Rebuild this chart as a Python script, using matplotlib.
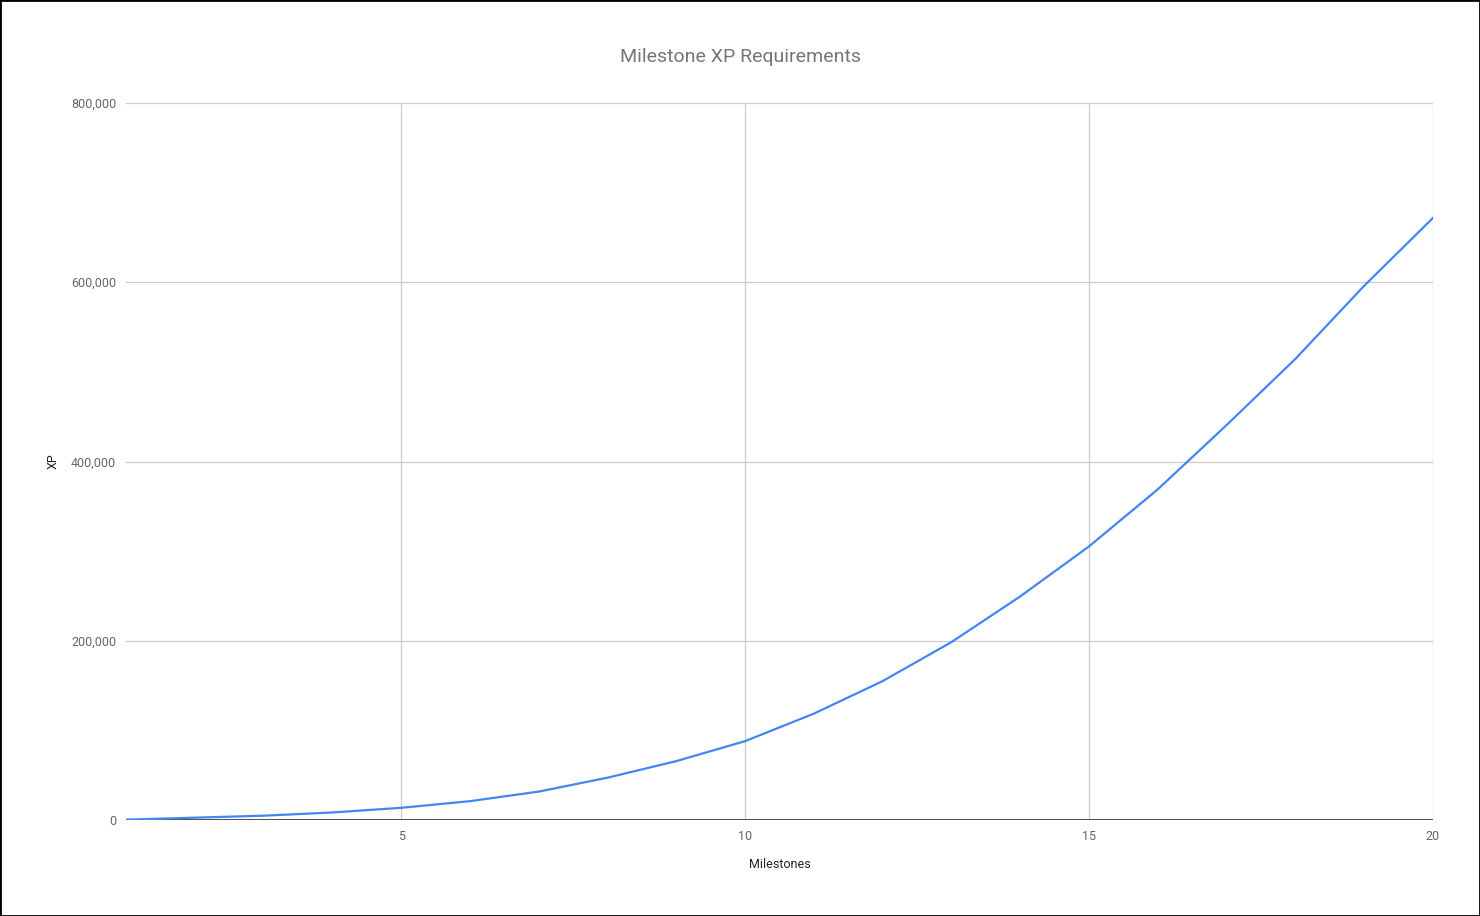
import matplotlib.pyplot as plt
from matplotlib.ticker import FuncFormatter
from matplotlib.patches import Rectangle

# Значення
milestones = list(range(1, 21))
xp = [400, 2600, 4800, 8400, 13600, 21000, 31700, 47200, 65700, 88000,
      118700, 155000, 198500, 249500, 305300, 369000, 440700, 514500, 596100, 671800]

x_ticks = [5, 10, 15, 20]
y_ticks = [0, 200000, 400000, 600000, 800000]

plt.rcParams['font.family'] = ['Roboto', 'DejaVu Sans']

fig = plt.figure(figsize=(14.8, 9.16), dpi=100)
ax = fig.add_axes([126 / 1480, 96 / 916, (1433 - 126) / 1480, (820 - 103) / 916])

ax.plot(milestones, xp, color="#4285F4", linewidth=1.6, zorder=3)

ax.set_xlim(1, 20)
ax.set_ylim(0, 800000)
ax.set_xticks(x_ticks)
ax.set_yticks(y_ticks)
ax.yaxis.set_major_formatter(FuncFormatter(lambda v, p: f"{int(v):,}"))
ax.grid(True, color="#cccccc", linewidth=0.9)
ax.set_axisbelow(True)
ax.axhline(0, color="#333333", linewidth=1.2, zorder=2)

for s in ax.spines.values():
    s.set_visible(False)
ax.tick_params(length=0, labelsize=9, labelcolor="#666666")
ax.tick_params(axis="y", pad=7)
ax.tick_params(axis="x", pad=7)

ax.set_xlabel("Milestones", fontsize=9, color="#222222", labelpad=11)
ax.set_ylabel("XP", fontsize=9, color="#222222", labelpad=8)
fig.text(0.5, 1 - 57 / 916, "Milestone XP Requirements", ha="center", va="center",
         fontsize=14, color="#757575")

fig.patches.append(Rectangle((0, 0), 1, 1, transform=fig.transFigure,
                             fill=False, edgecolor="black", linewidth=2))

plt.savefig("out.png", dpi=100)
